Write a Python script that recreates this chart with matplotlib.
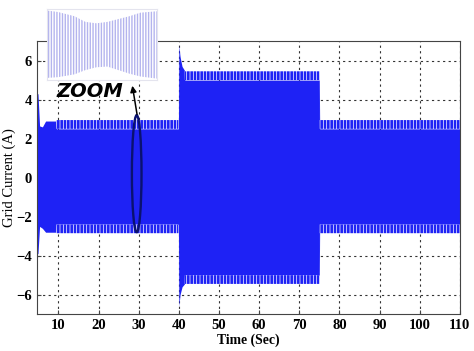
import numpy as np
import matplotlib
matplotlib.use("Agg")
import matplotlib.pyplot as plt
from matplotlib.patches import Ellipse

# envelope knots of the grid current (A) vs time (s)
t_env = [4.65, 4.9, 5.3, 6.0, 6.8, 9.4, 9.5, 39.9, 40.0, 40.3, 40.8, 41.4, 41.5, 75.0, 75.1, 110.0]
top_outer = [4.3, 4.3, 2.65, 2.6, 2.9, 2.9, 2.95, 2.95, 6.8, 6.2, 5.7, 5.5, 5.45, 5.45, 2.95, 2.95]
top_inner = [4.3, 4.3, 2.65, 2.6, 2.9, 2.9, 2.5, 2.5, 6.8, 6.2, 5.7, 5.5, 5.0, 5.0, 2.5, 2.5]
bot_outer = [-3.9, -3.9, -2.5, -2.6, -2.8, -2.8, -2.85, -2.85, -6.6, -6.0, -5.6, -5.45, -5.45, -5.45, -2.85, -2.85]
bot_inner = [-3.9, -3.9, -2.5, -2.6, -2.8, -2.8, -2.4, -2.4, -6.6, -6.0, -5.6, -5.45, -5.0, -5.0, -2.4, -2.4]

# zoom inset envelope (normalised)
ins_x = [0.0, 0.1, 0.25, 0.35, 0.45, 0.55, 0.65, 0.75, 0.85, 1.0]
ins_top = [0.98, 0.96, 0.9, 0.82, 0.8, 0.82, 0.86, 0.9, 0.95, 0.97]
ins_bot = [0.03, 0.04, 0.08, 0.14, 0.18, 0.19, 0.14, 0.09, 0.05, 0.02]

xticks = [10, 20, 30, 40, 50, 60, 70, 80, 90, 100, 110]
yticks = [-6, -4, -2, 0, 2, 4, 6]

BLUE = '#1e22f5'

fig = plt.figure(figsize=(4.74, 3.51), dpi=100)
ax = fig.add_axes([0.078, 0.105, 0.892, 0.778])

plt.rcParams['hatch.linewidth'] = 1.9
ax.fill_between(t_env, bot_inner, top_inner, color=BLUE, lw=0, zorder=2)
ax.fill_between(t_env, top_inner, top_outer, facecolor='white', edgecolor=BLUE,
                hatch='|||||', lw=0, zorder=2)
ax.fill_between(t_env, bot_outer, bot_inner, facecolor='white', edgecolor=BLUE,
                hatch='|||||', lw=0, zorder=2)

ax.add_patch(Ellipse((29.5, 0.2), 2.4, 6.0, fill=False, ec='#0a1270', lw=1.7, zorder=4))
ax.annotate('', xy=(28.3, 4.85), xytext=(29.7, 3.1),
            arrowprops=dict(arrowstyle='-|>', color='black', lw=1.1, mutation_scale=9), zorder=5)
ax.text(9.6, 4.4, 'ZOOM', fontsize=14, fontweight='bold', fontstyle='italic',
        ha='left', va='center', zorder=5)

ax.set_xlim(4.65, 110)
ax.set_ylim(-7, 7)
ax.set_xticks(xticks)
ax.set_yticks(yticks)
ax.set_axisbelow(True)
ax.grid(True, color='#333333', linestyle=(0, (2, 3)), lw=0.8)
ax.tick_params(direction='in', length=3, color='#444444')
for lbl in ax.get_xticklabels() + ax.get_yticklabels():
    lbl.set_family('Liberation Serif')
    lbl.set_fontweight('bold')
    lbl.set_fontsize(10.5)
for s in ax.spines.values():
    s.set_color('#444444')
ax.set_xlabel('Time (Sec)', family='Liberation Serif', fontweight='bold', fontsize=9.8, labelpad=1)
ax.set_ylabel('Grid Current (A)', family='Liberation Serif', fontsize=10.5, labelpad=0)

# zoomed waveform inset
plt.rcParams['hatch.linewidth'] = 1.0
axi = fig.add_axes([0.099, 0.772, 0.232, 0.202])
axi.fill_between(ins_x, ins_bot, ins_top, facecolor='white', edgecolor='#b4b4ee',
                 hatch='||||||', lw=0)
axi.set_xlim(0, 1)
axi.set_ylim(0, 1)
axi.set_xticks([])
axi.set_yticks([])
for s in axi.spines.values():
    s.set_color('#e4e4ee')

fig.savefig('out.png', dpi=100)
